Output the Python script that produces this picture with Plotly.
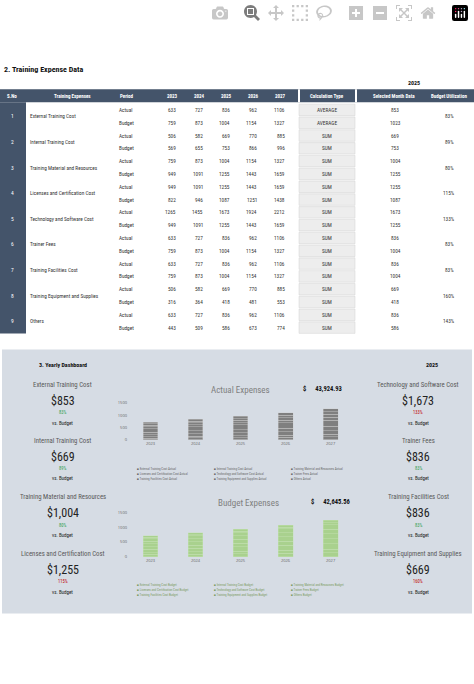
import plotly.graph_objects as go

W, H = 474, 684
years = ["2023", "2024", "2025", "2026", "2027"]
expenses = ["External Training Cost", "Internal Training Cost", "Training Material and Resources",
            "Licenses and Certification Cost", "Technology and Software Cost", "Trainer Fees",
            "Training Facilities Cost", "Training Equipment and Supplies", "Others"]
actual = [[633, 727, 836, 962, 1106], [506, 582, 669, 770, 885], [759, 873, 1004, 1154, 1327],
          [949, 1091, 1255, 1443, 1659], [1265, 1455, 1673, 1924, 2212], [633, 727, 836, 962, 1106],
          [633, 727, 836, 962, 1106], [506, 582, 669, 770, 885], [633, 727, 836, 962, 1106]]
budget = [[759, 873, 1004, 1154, 1327], [569, 655, 753, 866, 996], [949, 1091, 1255, 1443, 1659],
          [822, 946, 1087, 1251, 1438], [949, 1091, 1255, 1443, 1659], [759, 873, 1004, 1154, 1327],
          [759, 873, 1004, 1154, 1327], [316, 364, 418, 481, 553], [443, 509, 586, 673, 774]]
calc_type = ["AVERAGE"] + ["SUM"] * 8
sel_actual = [853, 669, 1004, 1255, 1673, 836, 836, 669, 836]
sel_budget = [1023, 753, 1255, 1087, 1255, 1004, 1004, 418, 586]
utilization = ["83%", "89%", "80%", "115%", "133%", "83%", "83%", "160%", "143%"]
card_values = ["$853", "$669", "$1,004", "$1,255", "$1,673", "$836", "$836", "$669"]
total_actual = "$      43,924.93"
total_budget = "$      42,645.56"

def py(y):
    return 1 - y / H

def px(x):
    return x / W

fig = go.Figure()
ann = []
shapes = []
FONT = "Liberation Sans Narrow, Roboto Condensed, Liberation Sans"

def T(x, y, s, size=6, color="#333", anchor="center", bold=False):
    ann.append(dict(x=px(x), y=py(y), xref="paper", yref="paper", text=f"<b>{s}</b>" if bold else s,
                    showarrow=False, xanchor=anchor, yanchor="middle",
                    font=dict(size=size, color=color, family=FONT)))

def R(x0, y0, x1, y1, fill, line=None):
    shapes.append(dict(type="rect", xref="paper", yref="paper", x0=px(x0), x1=px(x1), y0=py(y1), y1=py(y0),
                       fillcolor=fill, line=dict(width=0.5 if line else 0, color=line or fill), layer="below"))

# Table
T(2, 67, "2. Training Expense Data", 8, "#111", "left", True)
T(414, 80, "2025", 6, "#111", "center", True)
R(0, 87, 474, 100, "#44546a")
R(0, 100, 26, 333, "#44546a")
R(298, 87, 300, 100, "#ffffff")
R(355, 87, 357, 100, "#ffffff")
hdr = [(12, "S.No"), (72, "Training Expenses"), (127, "Period"), (172, "2023"), (199, "2024"),
       (226, "2025"), (253, "2026"), (280, "2027"), (327, "Calculation Type"), (394, "Selected Month Data"),
       (449, "Budget Utilization")]
for x, s in hdr:
    T(x, 93.5, s, 5, "#ffffff", "center", True)
step = 12.9
for i, name in enumerate(expenses):
    ya = 107.7 + 2 * i * step
    yb = ya + step
    ym = (ya + yb) / 2
    T(12, ym, str(i + 1), 5.5, "#ffffff")
    T(28, ym, name, 5.3, "#333", "left")
    T(117, ya, "Actual", 5.3, "#333", "left")
    T(117, yb, "Budget", 5.3, "#333", "left")
    for j, x in enumerate([178, 205, 232, 259, 287]):
        T(x, ya, str(actual[i][j]), 5.3, "#333", "right")
        T(x, yb, str(budget[i][j]), 5.3, "#333", "right")
    for yy in (ya, yb):
        R(299, yy - 5.8, 355, yy + 5.8, "#ededed", "#d0d0d0")
        T(327, yy, calc_type[i], 5.3, "#333")
    T(395, ya, str(sel_actual[i]), 5.3, "#333")
    T(395, yb, str(sel_budget[i]), 5.3, "#333")
    T(449, ym, utilization[i], 5.3, "#333")

# Dashboard panel
R(2, 349, 472, 615, "#d6dce4")
T(63, 364, "3. Yearly Dashboard", 6, "#111", "center", True)
T(432, 364, "2025", 6, "#111", "center", True)
card_ys = [385, 441, 498, 555]
for k in range(8):
    col = k // 4
    r = k % 4
    cx = 63 if col == 0 else 418
    y0 = card_ys[r]
    i = k
    u = utilization[i]
    T(cx, y0, expenses[i], 6.8, "#595959")
    T(cx, y0 + 16, card_values[k], 12, "#222")
    T(cx, y0 + 28, u, 4.5, "#2e9e4f" if int(u[:-1]) <= 100 else "#c00000")
    T(cx, y0 + 38, "vs. Budget", 5, "#222")

T(240, 390, "Actual Expenses", 9, "#7f7f7f")
T(322, 389, total_actual, 6.5, "#111", "center", True)
T(248, 504, "Budget Expenses", 9, "#7f7f7f")
T(330, 503, total_budget, 6.5, "#111", "center", True)

gray = "#7f7f7f"
green = "#a9d18e"
for i, name in enumerate(expenses):
    fig.add_trace(go.Bar(x=years, y=[v / 9 for v in actual[i]], marker=dict(color=gray, line=dict(color="#cfcfcf", width=0.4)),
                         name=name + " Actual", xaxis="x", yaxis="y", showlegend=False, width=0.33))
    fig.add_trace(go.Bar(x=years, y=[v / 9 for v in budget[i]], marker=dict(color=green, line=dict(color="#c9e3b6", width=0.4)),
                         name=name + " Budget", xaxis="x2", yaxis="y2", showlegend=False, width=0.33))

lx = [135, 212, 289]
for i, name in enumerate(expenses):
    c = i % 3
    r = i // 3
    T(lx[c], 469 + r * 5.3, "■ " + name + " Actual", 3.2, "#666", "left")
    T(lx[c], 586 + r * 5.3, "■ " + name + " Budget", 3.2, "#7a9a60", "left")

ax_common = dict(showgrid=False, zeroline=False, showline=False, tickfont=dict(size=4, color="#666"), ticks="")
fig.update_layout(
    width=W, height=H, margin=dict(l=0, r=0, t=0, b=0), paper_bgcolor="white", plot_bgcolor="rgba(0,0,0,0)",
    barmode="stack", bargap=0.67,
    xaxis=dict(domain=[0.27, 0.745], anchor="y", **ax_common),
    yaxis=dict(domain=[py(440), py(403)], range=[0, 1500], tickvals=[0, 500, 1000, 1500], anchor="x", **ax_common),
    xaxis2=dict(domain=[0.27, 0.745], anchor="y2", **ax_common),
    yaxis2=dict(domain=[py(558), py(513)], range=[0, 1500], tickvals=[0, 500, 1000, 1500], anchor="x2", **ax_common),
    annotations=ann, shapes=shapes,
)
fig.write_html("out.html")
with open("out.html", encoding="utf-8") as f:
    html = f.read()
html = html.replace("<body>", '<body style="margin:0;padding:0;overflow:hidden">', 1)
with open("out.html", "w", encoding="utf-8") as f:
    f.write(html)
